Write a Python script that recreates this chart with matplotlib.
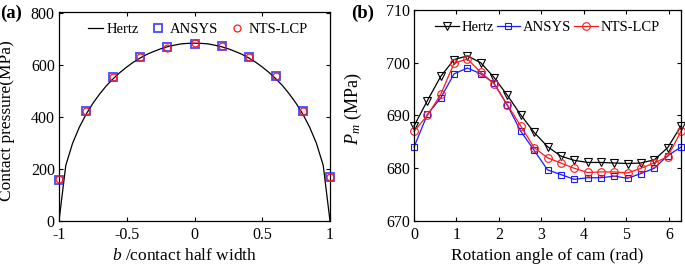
import numpy as np
import matplotlib
matplotlib.use("Agg")
import matplotlib.pyplot as plt

plt.rcParams['font.family'] = ['Liberation Serif', 'DejaVu Serif']
plt.rcParams['mathtext.fontset'] = 'custom'
plt.rcParams['mathtext.rm'] = 'Liberation Serif'
plt.rcParams['mathtext.it'] = 'Liberation Serif:italic'

# ---- panel (a) data ----
hertz_x = [-1, -0.95, -0.9, -0.85, -0.8, -0.75, -0.7, -0.65, -0.6, -0.55, -0.5,
           -0.45, -0.4, -0.35, -0.3, -0.25, -0.2, -0.15, -0.1, -0.05, 0,
           0.05, 0.1, 0.15, 0.2, 0.25, 0.3, 0.35, 0.4, 0.45, 0.5,
           0.55, 0.6, 0.65, 0.7, 0.75, 0.8, 0.85, 0.9, 0.95, 1]
hertz_p = [0, 214, 299, 361, 411, 453, 489, 521, 548, 572, 593,
           612, 628, 642, 653, 663, 671, 677, 682, 684, 685,
           684, 682, 677, 671, 663, 653, 642, 628, 612, 593,
           572, 548, 521, 489, 453, 411, 361, 299, 214, 0]
pts_x = [-1, -0.8, -0.6, -0.4, -0.2, 0, 0.2, 0.4, 0.6, 0.8, 1]
ansys_p = [158, 423, 556, 631, 670, 683, 672, 631, 557, 425, 170]
nts_p = [161, 422, 556, 630, 668, 685, 672, 631, 557, 425, 171]

# ---- panel (b) data ----
angle = [0, 0.314, 0.628, 0.942, 1.257, 1.571, 1.885, 2.199, 2.513, 2.827, 3.142,
         3.456, 3.770, 4.084, 4.398, 4.712, 5.027, 5.341, 5.655, 5.969, 6.283]
hertz_pm = [688.0, 692.8, 697.4, 700.6, 701.3, 700.0, 697.2, 693.8, 690.1, 686.8, 684.1,
            682.3, 681.5, 681.1, 681.1, 681.0, 680.9, 681.0, 681.6, 683.9, 688.0]
ansys_pm = [684.0, 690.2, 693.3, 697.9, 699.0, 697.9, 696.1, 691.9, 687.0, 683.4, 679.7,
            678.8, 677.9, 678.2, 678.2, 678.5, 678.1, 679.0, 680.0, 682.4, 684.0]
nts_pm = [687.0, 690.0, 694.0, 699.9, 700.7, 698.2, 696.0, 692.0, 688.0, 683.9, 682.0,
          681.0, 680.0, 679.2, 679.3, 679.3, 679.1, 680.0, 681.0, 682.2, 687.0]

BLUE = '#1a1aff'
RED = '#ff1a1a'
TFS = 11.5   # tick labels
LFS = 12.5   # axis labels
GFS = 10.5   # legend

fig = plt.figure(figsize=(6.85, 2.67), dpi=100)

def style(ax):
    ax.tick_params(direction='in', top=True, right=True, labelsize=TFS, length=3, width=0.8, pad=3)
    ax.tick_params(axis='x', pad=4)
    for s in ax.spines.values():
        s.set_linewidth(0.9)

# panel (a)
ax1 = fig.add_axes([59/685, 1-221/267, 271/685, (221-11.7)/267])
ax1.plot(hertz_x, hertz_p, color='black', lw=0.9, label='Hertz')
ax1.plot(pts_x, ansys_p, ls='none', marker='s', ms=6.2, mfc='none', mec=BLUE, mew=1.3, alpha=0.8,
         label='ANSYS', clip_on=False, zorder=3)
ax1.plot(pts_x, nts_p, ls='none', marker='o', ms=5, mfc='none', mec=RED, mew=0.9,
         label='NTS-LCP', clip_on=False, zorder=4)
ax1.set_xlim(-1, 1)
ax1.set_ylim(0, 806)
ax1.set_xticks([-1, -0.5, 0, 0.5, 1])
ax1.set_xticklabels(['-1', '-0.5', '0', '0.5', '1'])
ax1.set_yticks([0, 200, 400, 600, 800])
style(ax1)
ax1.set_xlabel(r'$\it{b}$ /contact half width', fontsize=LFS)
ax1.xaxis.set_label_coords(0.463, -0.13)
ax1.xaxis.label.set_va('top')
ax1.set_ylabel('Contact pressure(MPa)', fontsize=LFS)
ax1.yaxis.set_label_coords(-0.163, 0.478)
ax1.legend(loc='upper center', ncol=3, frameon=False, fontsize=GFS, handlelength=1.0,
           handletextpad=0.3, columnspacing=0.8, borderaxespad=0.35, bbox_to_anchor=(0.513, 1.0))

# panel (b)
ax2 = fig.add_axes([414/685, 1-221/267, 267/685, (221-10)/267])
ax2.plot(angle, hertz_pm, color='black', lw=0.9, marker='v', ms=5.5, mfc='none', mec='black', mew=0.8,
         label='Hertz', clip_on=False)
ax2.plot(angle, ansys_pm, color=BLUE, lw=0.9, marker='s', ms=4.6, mfc='none', mec=BLUE, mew=0.8,
         label='ANSYS', clip_on=False)
ax2.plot(angle, nts_pm, color=RED, lw=0.9, marker='o', ms=5.5, mfc='none', mec=RED, mew=0.8,
         label='NTS-LCP', clip_on=False)
ax2.set_xlim(0, 2*np.pi)
ax2.set_ylim(670, 710)
ax2.set_xticks([0, 1, 2, 3, 4, 5, 6])
ax2.set_yticks([670, 680, 690, 700, 710])
style(ax2)
ax2.set_xlabel('Rotation angle of cam (rad)', fontsize=LFS, labelpad=4)
ax2.set_ylabel(r'$P_{m}$ (MPa)', fontsize=LFS + 0.5)
ax2.yaxis.set_label_coords(-0.187, 0.53)
ax2.legend(loc='upper center', ncol=3, frameon=False, fontsize=GFS, handlelength=1.6,
           handletextpad=0.2, columnspacing=0.2, borderaxespad=0.35, bbox_to_anchor=(0.5, 1.0))

fig.text(0.0, 1-13/267, '(a)', fontsize=13.5, fontweight='bold', va='center', ha='left')
fig.text(351/685, 1-13/267, '(b)', fontsize=13.5, fontweight='bold', va='center', ha='left')

fig.savefig('out.png', dpi=100)
